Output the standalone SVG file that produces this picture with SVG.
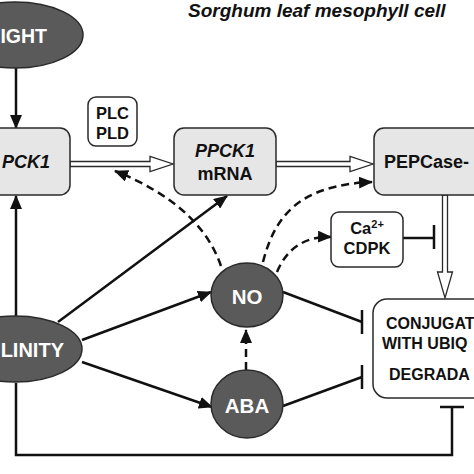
<svg xmlns="http://www.w3.org/2000/svg" width="474" height="474" viewBox="0 0 474 474">
<style>
.t{font-family:"Liberation Sans",Arial,sans-serif;font-weight:bold;fill:#111}
.w{font-family:"Liberation Sans",Arial,sans-serif;font-weight:bold;fill:#fff}
.dk{fill:#5a5a5a;stroke:#2a2a2a;stroke-width:1.5}
.bx{fill:#e6e6e6;stroke:#2a2a2a;stroke-width:1.5}
.wb{fill:#fff;stroke:#2a2a2a;stroke-width:1.5}
.ln{fill:none;stroke:#111;stroke-width:2.5}
.ds{fill:none;stroke:#111;stroke-width:2.5;stroke-dasharray:8 5}
.ho{fill:#fff;stroke:#2a2a2a;stroke-width:1.3;stroke-linejoin:miter}
</style>
<defs>
<marker id="ah" markerUnits="userSpaceOnUse" markerWidth="14" markerHeight="12" refX="13" refY="6" orient="auto">
<path d="M0,0 L14,6 L0,12 Z" fill="#111"/>
</marker>
</defs>
<rect width="474" height="474" fill="#fff"/>
<text class="t" x="188" y="17" font-size="19" font-style="italic">Sorghum leaf mesophyll cell</text>

<g id="connectors">
<line class="ln" x1="16" y1="67" x2="16" y2="128" marker-end="url(#ah)"/>
<line class="ln" x1="16" y1="316" x2="16" y2="196" marker-end="url(#ah)"/>
<line class="ln" x1="58" y1="322" x2="227" y2="196" marker-end="url(#ah)"/>
<line class="ln" x1="82" y1="340" x2="211" y2="292" marker-end="url(#ah)"/>
<line class="ln" x1="82" y1="362" x2="212" y2="407" marker-end="url(#ah)"/>
<polyline class="ln" points="16,383 16,455 452,455 452,407"/>
<line class="ln" x1="440" y1="407" x2="464" y2="407"/>
<line class="ln" x1="283" y1="292" x2="362" y2="322"/>
<line class="ln" x1="362" y1="310" x2="362" y2="334"/>
<line class="ln" x1="283" y1="406" x2="362" y2="377"/>
<line class="ln" x1="362" y1="365" x2="362" y2="389"/>
<line class="ln" x1="403" y1="238" x2="434" y2="238"/>
<line class="ln" x1="434" y1="225" x2="434" y2="249"/>
<path class="ds" d="M221,266 Q200,205 115,171" marker-end="url(#ah)"/>
<path class="ds" d="M263,262 C275,215 300,185 372,182" marker-end="url(#ah)"/>
<path class="ds" d="M277,272 Q292,236 331,237" marker-end="url(#ah)"/>
<line class="ds" x1="246" y1="370" x2="246" y2="330" marker-end="url(#ah)"/>
<polygon class="ho" points="70,161.5 150,161.5 150,156.5 173,164 150,171.5 150,166.5 70,166.5"/>
<polygon class="ho" points="276,161.5 350,161.5 350,156.5 373,164 350,171.5 350,166.5 276,166.5"/>
<polygon class="ho" points="442.5,195 442.5,272 437.5,272 445,298 452.5,272 447.5,272 447.5,195"/>
</g>

<g id="light">
<ellipse class="dk" cx="15" cy="35" rx="68" ry="33"/>
<text class="w" x="47" y="43" font-size="19.5" text-anchor="end">IGHT</text>
</g>
<g id="ppck1">
<rect class="bx" x="-30" y="128" width="100" height="67" rx="10"/>
<text class="t" x="50" y="168" font-size="18" font-style="italic" text-anchor="end">PCK1</text>
</g>
<g id="plc-pld">
<rect class="wb" x="88" y="97" width="49" height="49" rx="8"/>
<text class="t" x="112.5" y="119" font-size="16.5" text-anchor="middle">PLC</text>
<text class="t" x="112.5" y="139" font-size="16.5" text-anchor="middle">PLD</text>
</g>
<g id="ppck1-mrna">
<rect class="bx" x="174" y="128" width="102" height="67" rx="10"/>
<text class="t" x="225" y="157" font-size="18" font-style="italic" text-anchor="middle">PPCK1</text>
<text class="t" x="225" y="180" font-size="18" text-anchor="middle">mRNA</text>
</g>
<g id="pepcase">
<rect class="bx" x="374" y="128" width="130" height="67" rx="10"/>
<text class="t" x="384" y="168" font-size="18">PEPCase-</text>
</g>
<g id="ca-cdpk">
<rect class="wb" x="331" y="212" width="72" height="55" rx="8"/>
<text class="t" x="367" y="234" font-size="16.5" text-anchor="middle">Ca<tspan font-size="11" dy="-6">2+</tspan></text>
<text class="t" x="367" y="254" font-size="16.5" text-anchor="middle">CDPK</text>
</g>
<g id="salinity">
<ellipse class="dk" cx="15" cy="349" rx="67" ry="33"/>
<text class="w" x="64" y="357" font-size="20" text-anchor="end">LINITY</text>
</g>
<g id="no">
<ellipse class="dk" cx="247" cy="295" rx="36" ry="32"/>
<text class="w" x="247" y="304" font-size="20.5" text-anchor="middle">NO</text>
</g>
<g id="aba">
<ellipse class="dk" cx="247" cy="404" rx="36" ry="34"/>
<text class="w" x="247" y="413" font-size="20.5" text-anchor="middle">ABA</text>
</g>
<g id="conjugation">
<rect class="wb" x="373" y="299" width="140" height="99" rx="14"/>
<text class="t" x="386" y="329" font-size="16">CONJUGAT</text>
<text class="t" x="382" y="349" font-size="16">WITH UBIQ</text>
<text class="t" x="389" y="380" font-size="16">DEGRADA</text>
</g>
</svg>
